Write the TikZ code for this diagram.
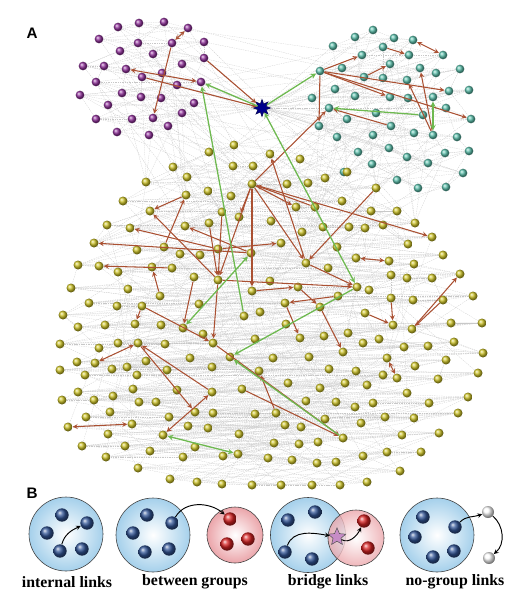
\documentclass[tikz,border=0pt]{standalone}
\usepackage{fontspec}
\setmainfont{Liberation Serif}
\setsansfont{Liberation Sans}
\usetikzlibrary{shapes.geometric,backgrounds}

\definecolor{ballyellow}{RGB}{205,195,40}
\definecolor{ballpurple}{RGB}{145,50,155}
\definecolor{ballteal}{RGB}{90,190,170}
\definecolor{ballblue}{RGB}{50,85,150}
\definecolor{ballred}{RGB}{215,35,35}
\definecolor{linkbrown}{RGB}{170,80,50}
\definecolor{linkgreen}{RGB}{110,185,80}
\definecolor{webgray}{RGB}{200,200,200}
\definecolor{groupblue}{RGB}{165,208,235}
\definecolor{groupred}{RGB}{235,165,170}

\begin{document}
\begin{tikzpicture}[x=0.03cm, y=-0.03cm, >=stealth,
    orb/.style={circle, inner sep=0pt, minimum size=0.26cm, shading=ball},
    ynode/.style={orb, minimum size=0.27cm, ball color=ballyellow},
    pnode/.style={orb, ball color=ballpurple},
    tnode/.style={orb, ball color=ballteal},
    weblink/.style={draw=webgray, line width=0.2pt, dash pattern=on 1.2pt off 0.8pt},
    brownlink/.style={draw=linkbrown, line width=0.9pt},
    greenlink/.style={draw=linkgreen, line width=1.1pt},
    groupblob/.style={circle, draw=black!75, line width=0.5pt, inner sep=0pt, shading=radial, inner color=white},
    bball/.style={orb, minimum size=0.4cm, ball color=ballblue},
    rball/.style={orb, minimum size=0.4cm, ball color=ballred},
    wball/.style={orb, minimum size=0.36cm, ball color=white},
    caption/.style={font=\bfseries\fontsize{13.5}{15}\selectfont},
    panel/.style={font=\sffamily\bfseries\fontsize{13}{15}\selectfont}
]
    \useasboundingbox (0,0) rectangle (527,611);

    % --- Panel labels ---
    \node[panel] (labA) at (32,33) {A};
    \node[panel] (labB) at (32,493) {B};

    % --- Panel A: purple group ---
    \foreach \x/\y [count=\i] in {118/27,139/23,164/22,188/28,99/39,138/43,172/43,204/42,120/51,153/54,
        204/58,83/66,104/66,126/69,142/77,162/73,182/64,201/82,96/82,122/93,
        141/97,161/98,177/85,80/95,108/105,194/103,96/119,132/119,153/118,182/113,
        117/132,149/135,168/126}
        \node[pnode] (p\i) at (\x,\y) {};

    % --- Panel A: teal group ---
    \foreach \x/\y [count=\i] in {333/46,355/37,373/30,394/38,413/40,383/47,362/55,409/55,443/55,320/71,
        342/68,364/77,383/78,390/64,407/80,420/68,436/73,460/69,335/89,355/96,
        312/98,390/97,408/98,433/97,449/91,469/90,329/108,347/119,376/113,423/115,
        446/108,471/119,319/126,337/137,391/126,414/133,433/135,457/137,373/135,358/152,
        389/148,407/157,428/163,445/153,469/151,397/180,418/188,446/187,463/173,372/164,
        344/172}
        \node[tnode] (t\i) at (\x,\y) {};

    % --- Panel A: yellow group ---
    \foreach \x/\y [count=\i] in {234/145,209/152,270/154,300/159,173/167,233/166,253/166,347/172,325/178,187/177,
        146/182,252/184,287/184,308/183,376/188,186/195,208/191,231/196,123/201,342/201,
        296/207,315/207,371/211,397/211,150/211,222/212,239/217,271/221,415/223,383/225,
        323/227,349/227,365/228,107/225,130/228,185/226,209/223,302/232,432/237,281/243,
        408/244,337/247,94/243,137/250,164/247,180/254,200/255,218/249,251/253,306/263,
        356/258,389/261,443/255,78/265,99/266,118/272,152/267,172/268,328/268,414/264,
        460/274,194/277,218/280,270/281,391/275,407/278,432/278,298/287,357/287,369/290,
        71/288,128/289,160/296,252/291,473/296,338/296,89/303,117/306,142/306,199/304,
        285/303,391/298,413/300,443/300,320/307,63/315,244/316,260/312,365/313,78/327,
        105/325,135/324,161/325,183/328,203/334,213/343,286/324,393/325,412/329,451/323,
        482/323,60/344,99/348,118/343,138/343,165/344,255/339,300/338,324/336,348/333,
        363/343,379/339,404/347,428/346,454/342,483/353,77/362,95/363,112/369,127/367,
        146/361,167/370,190/358,212/367,230/357,273/358,309/357,343/352,387/358,415/366,
        446/360,60/370,85/375,137/375,259/371,329/369,356/371,383/375,397/378,438/379,
        478/373,133/389,177/390,212/392,242/389,78/392,288/383,320/388,345/383,367/385,
        407/393,62/400,94/400,113/396,139/402,156/402,306/401,336/402,355/407,373/403,
        429/403,468/397,195/412,213/413,255/414,276/413,86/417,110/412,169/417,325/419,
        385/417,414/418,458/413,68/427,132/424,188/426,208/428,285/425,301/427,361/423,
        108/434,163/435,239/434,402/435,439/433,343/438,82/446,125/446,150/451,195/447,
        274/443,299/444,318/442,106/457,183/457,223/456,238/454,268/458,292/460,317/463,
        336/462,363/456,387/452,421/452,138/468,400/471,170/479,197/482,222/484,252/485,
        281/485,312/485,340/485,367/482}
        \node[ynode] (y\i) at (\x,\y) {};

    % --- Hub star between the groups ---
    \node[star, star points=8, star point ratio=2, minimum size=0.52cm, inner sep=0pt,
        fill=blue!55!black, draw=blue!30!black] (star) at (262,108) {};

    % --- Faint web of all other links ---
    \begin{pgfonlayer}{background}
        \foreach \i in {1,...,213} {
            \foreach \k in {1,4,9,17} {
                \pgfmathtruncatemacro{\j}{\i+\k}
                \ifnum\j<215 \draw[weblink] (y\i) -- (y\j); \fi
            }
        }
        \foreach \i in {1,3,...,213} {
            \pgfmathtruncatemacro{\j}{mod(\i*37,214)+1}
            \draw[weblink] (y\i) -- (y\j);
        }
        \foreach \i in {1,...,32} {
            \foreach \k in {1,3,6} {
                \pgfmathtruncatemacro{\j}{\i+\k}
                \ifnum\j<34 \draw[weblink] (p\i) -- (p\j); \fi
            }
        }
        \foreach \i in {1,...,50} {
            \foreach \k in {1,3,7} {
                \pgfmathtruncatemacro{\j}{\i+\k}
                \ifnum\j<52 \draw[weblink] (t\i) -- (t\j); \fi
            }
        }
        \foreach \i in {1,3,...,33} \draw[weblink] (p\i) -- (star);
        \foreach \i in {1,3,...,51} \draw[weblink] (t\i) -- (star);
        \foreach \i in {1,...,51} {
            \pgfmathtruncatemacro{\j}{mod(\i*7,70)+1}
            \draw[weblink] (t\i) -- (y\j);
        }
        \foreach \i in {1,...,33} {
            \pgfmathtruncatemacro{\j}{mod(\i*5,45)+1}
            \draw[weblink] (p\i) -- (y\j);
        }
        \foreach \i in {2,4,...,32} {
            \pgfmathtruncatemacro{\j}{mod(\i*3,51)+1}
            \draw[weblink] (p\i) -- (t\j);
        }
    \end{pgfonlayer}

    % --- Internal and between-group links ---
    \foreach \a/\b in {y16/y25,y45/y16,y49/y43,y63/y25,y48/y35,y49/y36,y58/y55,y73/y57,
        y12/y27,y12/y63,y12/y50,y12/y39,y12/y21,y15/y50,y50/y3,y99/y61,y85/y128,y89/y98,
        y82/y98,y84/y99,y81/y108,y96/y186,y145/y186,y166/y135,y79/y92,y62/y94,y79/y96,
        y63/y96,y144/y105,y105/y163,y63/y69,y76/y81,y50/y69,y48/y40,y26/y63,y37/y63,
        y22/y12,y74/y68,y68/y85,y12/y74,
        p7/p29,p15/star,p11/star,
        t10/t7,t10/t22,t10/t25,t10/t32,t12/t14,t6/t8,t37/t16,t37/t15,t10/t33,t35/t27,
        y12/t27}
        \draw[brownlink, ->] (\a) -- (\b);
    \foreach \a/\b in {y51/y52,y129/y139,y118/y105,y182/y144,y174/y175,p7/p4,p18/p14,t5/t9}
        \draw[brownlink, <->] (\a) -- (\b);

    % --- Bridge links ---
    \foreach \a/\b in {star/p18,star/t10,y87/p18,t30/t27,y69/y125,y186/y125}
        \draw[greenlink, ->] (\a) -- (\b);
    \foreach \a/\b in {star/y69,t24/t37,y182/y197,y94/y49}
        \draw[greenlink, <->] (\a) -- (\b);

    % --- Panel B: internal links ---
    \node[groupblob, minimum size=2.22cm, outer color=groupblue] (ga) at (66,534) {};
    \node[bball] (a1) at (62,515) {};
    \node[bball] (a2) at (87,523) {};
    \node[bball] (a3) at (47,533) {};
    \node[bball] (a4) at (82,549) {};
    \node[bball] (a5) at (60,551) {};
    \draw[->, thick] (a5) to[out=75, in=205] (a2);
    \node[caption] (lab1) at (67,582) {internal links};

    % --- Panel B: between groups ---
    \node[groupblob, minimum size=2.22cm, outer color=groupblue] (gb) at (153,535) {};
    \node[groupblob, minimum size=1.68cm, outer color=groupred] (gr) at (235,535) {};
    \node[bball] (b1) at (147,515) {};
    \node[bball] (b2) at (172,523) {};
    \node[bball] (b3) at (133,533) {};
    \node[bball] (b4) at (145,552) {};
    \node[bball] (b5) at (169,549) {};
    \node[rball] (r1) at (230,519) {};
    \node[rball] (r2) at (248,539) {};
    \node[rball] (r3) at (227,544) {};
    \draw[->, thick] (b2) to[out=60, in=140] (r1);
    \node[caption] (lab2) at (195,582) {between groups};

    % --- Panel B: bridge links ---
    \node[groupblob, minimum size=2.25cm, outer color=groupblue] (gc) at (308,535) {};
    \node[groupblob, minimum size=1.68cm, outer color=groupred, fill opacity=0.8] (gs) at (356,538) {};
    \node[bball] (c1) at (288,520) {};
    \node[bball] (c2) at (315,512) {};
    \node[bball] (c3) at (285,552) {};
    \node[bball] (c4) at (312,559) {};
    \node[rball] (s1) at (364,521) {};
    \node[rball] (s2) at (368,548) {};
    \node[star, star points=5, star point ratio=2.2, minimum size=0.55cm, inner sep=0pt,
        fill=violet!45, draw=black!70] (bstar) at (337,537) {};
    \draw[->, thick] (c3) to[out=70, in=170] (bstar);
    \draw[->, thick] (bstar) to[out=-30, in=-115] (s1);
    \node[caption] (lab3) at (328,582) {bridge links};

    % --- Panel B: no-group links ---
    \node[groupblob, minimum size=2.22cm, outer color=groupblue] (gd) at (437,535) {};
    \node[bball] (d1) at (423,517) {};
    \node[bball] (d2) at (455,527) {};
    \node[bball] (d3) at (415,537) {};
    \node[bball] (d4) at (433,557) {};
    \node[bball] (d5) at (454,551) {};
    \node[wball] (w1) at (488,512) {};
    \node[wball] (w2) at (489,558) {};
    \draw[->, thick] (d2) to[out=45, in=200] (w1);
    \draw[->, thick] (w1) to[out=-40, in=40] (w2);
    \node[caption] (lab4) at (455,582) {no-group links};
\end{tikzpicture}
\end{document}
